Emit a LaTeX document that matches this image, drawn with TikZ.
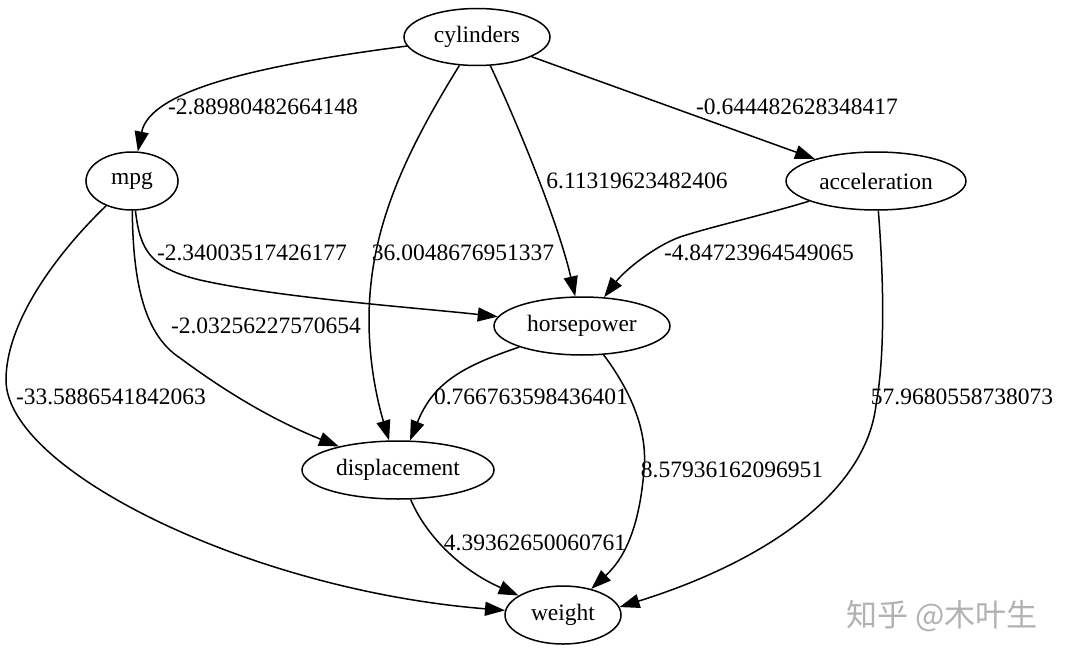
\documentclass[tikz,border=0pt]{standalone}
\usepackage{fontspec}
\setmainfont{Liberation Serif}
\newfontfamily\lserif{Liberation Serif}
\newfontfamily\cjkfont{Noto Sans CJK SC}
\usetikzlibrary{shapes.geometric,arrows.meta}
\begin{document}
\begin{tikzpicture}[x=1pt,y=-1pt,
  gnode/.style={draw,ellipse,line width=1.5pt,inner sep=0pt,font=\lserif\fontsize{23.5}{28}\selectfont},
  edge/.style={line width=1.5pt,-{Triangle[length=20pt,width=14pt]}},
  elabel/.style={font=\lserif\fontsize{23.5}{28}\selectfont,inner sep=0pt}]
\useasboundingbox (0,0) rectangle (1068,661);
\fill[white] (0,0) rectangle (1068,661);
% nodes
\node[gnode,minimum width=146pt,minimum height=57pt] (cyl) at (477,37) {cylinders};
\node[gnode,minimum width=92pt,minimum height=58pt] (mpg) at (132,181) {mpg};
\node[gnode,minimum width=180pt,minimum height=58pt] (acc) at (876,181) {acceleration};
\node[gnode,minimum width=176pt,minimum height=58pt] (hp) at (582,326) {horsepower};
\node[gnode,minimum width=192pt,minimum height=58pt] (disp) at (398,470) {displacement};
\node[gnode,minimum width=116pt,minimum height=58pt] (wt) at (563,615) {weight};
% edges
\draw[edge] (cyl) .. controls (260,65) and (150,90) .. (mpg);
\draw[edge] (cyl) .. controls (404,155) and (369,230) .. (369,320) .. controls (369,370) and (380,410) .. (disp);
\draw[edge] (cyl) .. controls (525,140) and (560,230) .. (hp);
\draw[edge] (cyl) -- (acc);
\draw[edge] (mpg) .. controls (140,250) and (150,268) .. (200,280) .. controls (280,298) and (420,308) .. (hp);
\draw[edge] (mpg) .. controls (133,285) and (145,335) .. (180,358) .. controls (210,380) and (260,415) .. (disp);
\draw[edge] (mpg) .. controls (60,250) and (6,320) .. (6,380) .. controls (6,470) and (250,590) .. (wt);
\draw[edge] (acc) .. controls (760,216) and (710,227) .. (680,237) .. controls (655,246) and (625,270) .. (hp);
\draw[edge] (acc) .. controls (883,270) and (886,350) .. (876,405) .. controls (866,490) and (770,560) .. (wt.8);
\draw[edge] (hp) .. controls (460,367) and (433,384) .. (disp);
\draw[edge] (hp) .. controls (630,390) and (648,430) .. (644,470) .. controls (640,520) and (628,555) .. (wt);
\draw[edge] (disp) .. controls (428,540) and (465,572) .. (wt);
% labels
\node[elabel] (l1) at (263,107) {-2.88980482664148};
\node[elabel] (l2) at (797,107) {-0.644482628348417};
\node[elabel] (l3) at (637,181) {6.11319623482406};
\node[elabel] (l4) at (252,253) {-2.34003517426177};
\node[elabel] (l5) at (463,253) {36.0048676951337};
\node[elabel] (l6) at (759,253) {-4.84723964549065};
\node[elabel] (l7) at (266,326) {-2.03256227570654};
\node[elabel] (l8) at (111,397) {-33.5886541842063};
\node[elabel] (l9) at (531,397) {0.766763598436401};
\node[elabel] (l10) at (962,397) {57.9680558738073};
\node[elabel] (l11) at (732,470) {8.57936162096951};
\node[elabel] (l12) at (535,543) {4.39362650060761};
% watermark
\node[inner sep=0pt,text=black!30,font=\cjkfont\fontsize{31}{36}\selectfont] (wm) at (942,616) {知乎 @木叶生};
\end{tikzpicture}
\end{document}
